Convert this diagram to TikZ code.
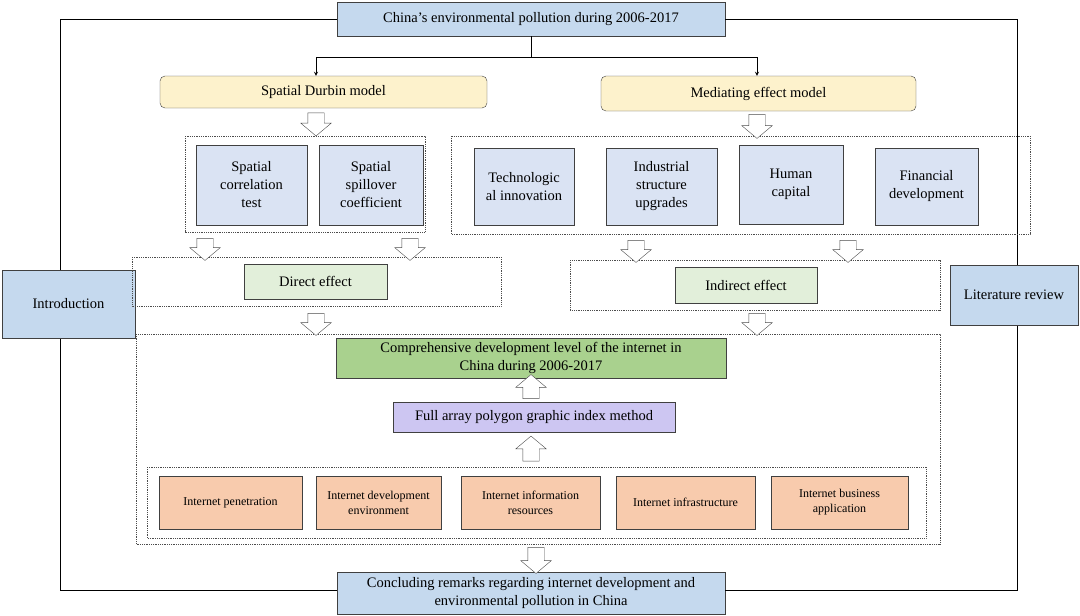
\documentclass[tikz,border=0pt]{standalone}
\usepackage{fontspec}
\setmainfont{Liberation Serif}
\usetikzlibrary{shapes.arrows}
\definecolor{cblue}{HTML}{C5D9EE}
\definecolor{cyel}{HTML}{FDF2CC}
\definecolor{clav}{HTML}{DAE3F3}
\definecolor{cgrn}{HTML}{E2EFDA}
\definecolor{cgrn2}{HTML}{A9D18E}
\definecolor{cpur}{HTML}{CDC6F2}
\definecolor{cora}{HTML}{F8CBAD}
\newcommand{\bx}[7]{\node[#6, minimum width={(#4-#3)*1pt}, minimum height={(#5-#2)*1pt}] (#1) at ({(#3+#4)/2},{-(#2+#5)/2}) {#7};}
\begin{document}
\begin{tikzpicture}[x=1pt,y=1pt,
 box/.style={draw=black!75, inner sep=2pt, align=center, font=\fontsize{14.5}{17}\selectfont},
 sbox/.style={box, font=\fontsize{14.5}{18}\selectfont},
 obox/.style={box, fill=cora, font=\fontsize{12}{15}\selectfont},
 dbox/.style={draw=black!70, densely dotted, thick},
 harrow/.style={draw=black!70, fill=white, single arrow, inner xsep=0pt, inner ysep=8pt, single arrow head extend=7pt, single arrow head indent=0pt, single arrow tip angle=100},
 line/.style={draw=black, thick}]
\useasboundingbox (0,0) rectangle (1080,-616);
% top / bottom
\bx{top}{2}{337}{725}{36}{box,fill=cblue}{China’s environmental pollution during 2006-2017}
\bx{bot}{572}{337}{725}{614}{box,fill=cblue,font=\fontsize{14.5}{18}\selectfont}{Concluding remarks regarding internet development and\\ environmental pollution in China}
\draw[line] (top.west) -- (60,-19) -- (60,-590) -- (bot.west |- 0,-590);
\draw[line] (top.east) -- (1017,-19) -- (1017,-590) -- (bot.east |- 0,-590);
\bx{intro}{270}{2}{135}{338}{box,fill=cblue}{Introduction}
\bx{lit}{265}{950}{1078}{325}{box,fill=cblue}{Literature review}
% models
\bx{sdm}{76}{160}{487}{108}{box,fill=cyel,rounded corners=5pt}{Spatial Durbin model}
\bx{mem}{76}{601}{916}{111}{box,fill=cyel,rounded corners=5pt}{Mediating effect model}
\coordinate (j) at (531,-57);
\draw[line] (top.south) -- (j);
\draw[line,-stealth] (j) -| (sdm.north -| 316,0);
\draw[line,-stealth] (j) -| (mem.north -| 757,0);
% dotted groups
\draw[dbox] (185,-136) rectangle (425,-232);
\draw[dbox] (451,-136) rectangle (1030,-234);
\bx{sc}{145}{196}{307}{225}{sbox,fill=clav}{Spatial\\correlation\\test}
\bx{ss}{145}{319}{423}{225}{sbox,fill=clav}{Spatial\\spillover\\coefficient}
\bx{ti}{148}{474}{574}{225}{sbox,fill=clav}{Technologic\\al innovation}
\bx{is}{148}{606}{717}{225}{sbox,fill=clav}{Industrial\\structure\\upgrades}
\bx{hc}{145}{739}{843}{224}{sbox,fill=clav}{Human\\capital}
\bx{fd}{148}{875}{978}{225}{sbox,fill=clav}{Financial\\development}
\draw[dbox] (132,-257) rectangle (501,-306);
\draw[dbox] (570,-260) rectangle (940,-310);
\bx{de}{264}{244}{387}{299}{box,fill=cgrn}{Direct effect}
\bx{ie}{267}{675}{817}{303}{box,fill=cgrn}{Indirect effect}
\draw[dbox] (136,-334) rectangle (940,-544);
\bx{cd}{338}{336}{726}{378}{box,fill=cgrn2,font=\fontsize{14.5}{18}\selectfont}{Comprehensive development level of the internet in\\China during 2006-2017}
\bx{fa}{402}{393}{675}{432}{box,fill=cpur}{Full array polygon graphic index method}
\draw[dbox] (147,-467) rectangle (926,-538);
\bx{o1}{476}{159}{302}{529}{obox}{Internet penetration}
\bx{o2}{476}{316}{441}{529}{obox}{Internet development\\environment}
\bx{o3}{476}{461}{600}{529}{obox}{Internet information\\resources}
\bx{o4}{476}{616}{755}{529}{obox}{Internet infrastructure}
\bx{o5}{476}{771}{908}{529}{obox}{Internet business\\application}
% hollow arrows
\node[harrow,rotate=-90,minimum height=23pt] (a1) at (316,-121) {};
\node[harrow,rotate=-90,minimum height=24pt] (a2) at (757,-123) {};
\node[harrow,rotate=-90,minimum height=22pt] (a3) at (205,-246) {};
\node[harrow,rotate=-90,minimum height=22pt] (a4) at (410,-246) {};
\node[harrow,rotate=-90,minimum height=22pt] (a5) at (636,-248) {};
\node[harrow,rotate=-90,minimum height=22pt] (a6) at (848,-248) {};
\node[harrow,rotate=-90,minimum height=22pt] (a7) at (316,-321) {};
\node[harrow,rotate=-90,minimum height=22pt] (a8) at (757,-321) {};
\node[harrow,rotate=90,minimum height=24pt] (a9) at (531,-390) {};
\node[harrow,rotate=90,minimum height=25pt] (a10) at (531,-452) {};
\node[harrow,rotate=-90,minimum height=26pt] (a11) at (536,-557) {};
\end{tikzpicture}
\end{document}
